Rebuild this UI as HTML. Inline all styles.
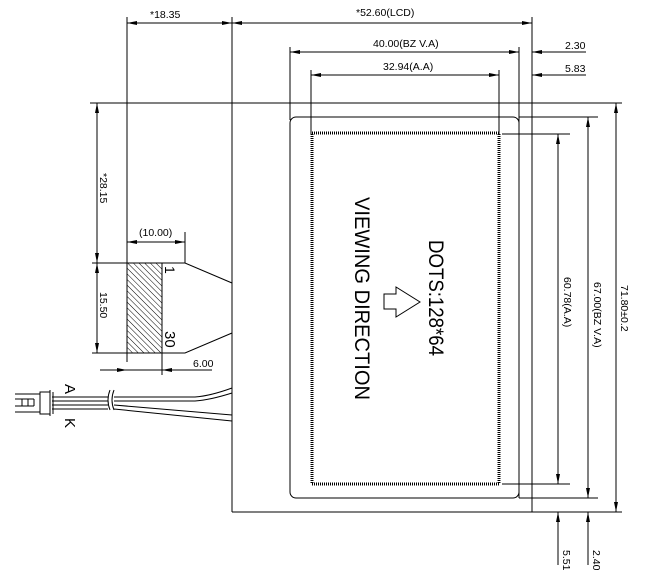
<!DOCTYPE html>
<html><head><meta charset="utf-8"><style>
html,body{margin:0;padding:0;background:#fff}
svg{display:block}
text{font-family:"Liberation Sans",sans-serif;fill:#000}
.t{font-size:10.5px}
.b{font-family:"Liberation Sans",sans-serif;font-size:21px;font-weight:normal}
</style></head><body>
<svg width="650" height="578" viewBox="0 0 650 578" xmlns="http://www.w3.org/2000/svg">
<defs>
<marker id="a" viewBox="0 0 10 4" refX="10" refY="2" markerWidth="12" markerHeight="4" orient="auto-start-reverse" markerUnits="userSpaceOnUse"><path d="M0,0L10,2L0,4z" fill="#000"/></marker>
<pattern id="h" width="4" height="4" patternUnits="userSpaceOnUse" patternTransform="rotate(-45)"><line x1="0" y1="0" x2="0" y2="4" stroke="#000" stroke-width="1"/></pattern>
</defs>
<g stroke="#000" stroke-width="1" fill="none">
<line x1="127" y1="17" x2="127" y2="362"/>
<line x1="232" y1="17" x2="232" y2="103"/>
<line x1="532" y1="17" x2="532" y2="512"/>
<line x1="290" y1="47" x2="290" y2="120"/>
<line x1="519" y1="47" x2="519" y2="498"/>
<line x1="311" y1="70" x2="311" y2="134"/>
<line x1="499" y1="70" x2="499" y2="134"/>
<line x1="127" y1="23" x2="232" y2="23" marker-start="url(#a)" marker-end="url(#a)"/>
<line x1="232" y1="23" x2="532" y2="23" marker-start="url(#a)" marker-end="url(#a)"/>
<line x1="290" y1="52" x2="519" y2="52" marker-start="url(#a)" marker-end="url(#a)"/>
<line x1="311" y1="75" x2="499" y2="75" marker-start="url(#a)" marker-end="url(#a)"/>
<line x1="586" y1="52" x2="532" y2="52" marker-end="url(#a)"/>
<line x1="586" y1="75" x2="532" y2="75" marker-end="url(#a)"/>
<line x1="90" y1="103" x2="622" y2="103"/>
<line x1="232" y1="103" x2="232" y2="512"/>
<line x1="232" y1="512" x2="622" y2="512"/>
<rect x="290" y="117" width="229" height="381" rx="6"/>
<line x1="519" y1="117" x2="598" y2="117"/>
<line x1="519" y1="498" x2="598" y2="498"/>
<line x1="502" y1="134" x2="570" y2="134"/>
<line x1="502" y1="484" x2="570" y2="484"/>
<rect x="312" y="133" width="187" height="351" stroke-width="3" stroke-dasharray="1 1"/>
<line x1="558" y1="484" x2="558" y2="134" marker-start="url(#a)" marker-end="url(#a)"/>
<line x1="588" y1="498" x2="588" y2="117" marker-start="url(#a)" marker-end="url(#a)"/>
<line x1="616" y1="512" x2="616" y2="103" marker-start="url(#a)" marker-end="url(#a)"/>
<line x1="558" y1="565" x2="558" y2="512" marker-end="url(#a)"/>
<line x1="588" y1="565" x2="588" y2="512" marker-end="url(#a)"/>
<line x1="97" y1="103" x2="97" y2="263" marker-start="url(#a)" marker-end="url(#a)"/>
<line x1="97" y1="263" x2="97" y2="353" marker-start="url(#a)" marker-end="url(#a)"/>
<line x1="92" y1="263" x2="185" y2="263"/>
<line x1="92" y1="353" x2="185" y2="353"/>
<line x1="185" y1="232" x2="185" y2="263"/>
<line x1="127" y1="242" x2="185" y2="242" marker-start="url(#a)" marker-end="url(#a)"/>
<rect x="127" y="263" width="35" height="90" fill="url(#h)"/>
<path d="M162,263 L185,263 L232,283 M232,333 L185,353 L162,353"/>
<line x1="162" y1="353" x2="162" y2="375"/>
<line x1="100" y1="370" x2="127" y2="370" marker-end="url(#a)"/>
<line x1="212" y1="370" x2="162" y2="370" marker-end="url(#a)"/>
<line x1="127" y1="370" x2="162" y2="370"/>
<path d="M52,397 H108 M52,401 H108 M52,405 H108 M52,409 H108"/>
<path d="M110,390 Q106,400 110,410 M114,390 Q110,400 114,410" />
<path d="M114,397 H195 Q210,396 232,388 M114,401 H195 Q210,400 232,393"/>
<path d="M114,405 L232,415 M114,409 L232,421"/>
<rect x="40" y="392" width="10" height="22"/>
<path d="M50,390 V416 M53,392 V414"/>
<path d="M15,394 H40 M15,399 H34 M15,406 H34 M15,412 H40 M34,399 V406 M22,399 V406 M28,399 V406"/>
<path d="M384,294 H396 V287 L420,302 L396,317 V309 H384 Z"/>
</g>
<g class="t">
<text x="150" y="18">*18.35</text>
<text x="356" y="16">*52.60(LCD)</text>
<text x="373" y="47">40.00(BZ V.A)</text>
<text x="383" y="70">32.94(A.A)</text>
<text x="565" y="49">2.30</text>
<text x="565" y="72">5.83</text>
<text x="139" y="236">(10.00)</text>
<text x="193" y="367">6.00</text>
<text transform="translate(100,173) rotate(90)">*28.15</text>
<text transform="translate(100,292) rotate(90)">15.50</text>
<text transform="translate(564,277) rotate(90)">60.78(A.A)</text>
<text transform="translate(594,282) rotate(90)">67.00(BZ V.A)</text>
<text transform="translate(621,285) rotate(90)">71.80±0.2</text>
<text transform="translate(563,550) rotate(90)">5.51</text>
<text transform="translate(593,550) rotate(90)">2.40</text>
<text style="font-size:15px" transform="translate(65,384) rotate(90)">A</text>
<text style="font-size:15px" transform="translate(65,418) rotate(90)">K</text>
<text style="font-size:14px" transform="translate(165,266) rotate(90)">1</text>
<text style="font-size:15px" transform="translate(165,331) rotate(90)">30</text>
</g>
<text class="b" transform="translate(355,197) rotate(90)" textLength="203" lengthAdjust="spacingAndGlyphs">VIEWING DIRECTION</text>
<text class="b" transform="translate(429,240) rotate(90)" textLength="116" lengthAdjust="spacingAndGlyphs">DOTS:128*64</text>
</svg>
</body></html>
